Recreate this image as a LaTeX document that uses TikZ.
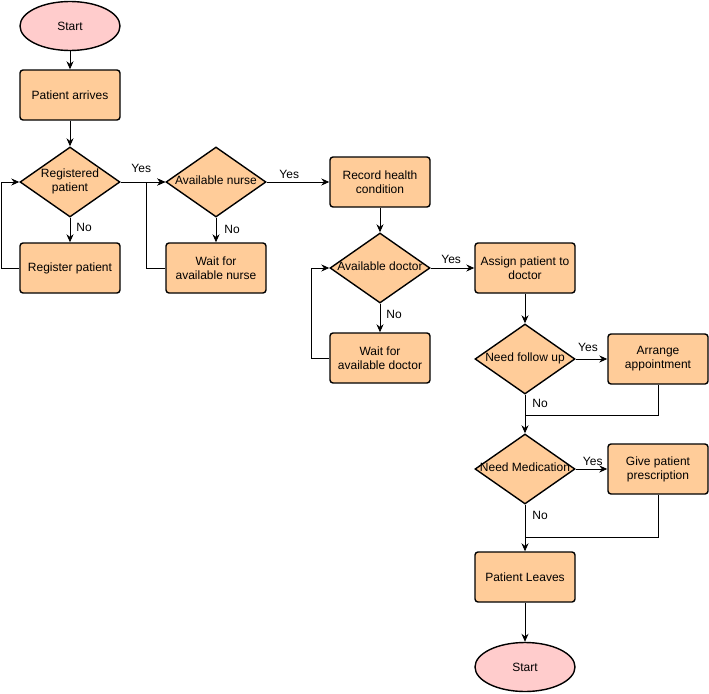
\documentclass[tikz,border=0pt]{standalone}
\usepackage{fontspec}
\setmainfont{Liberation Sans}
\usetikzlibrary{shapes.geometric,arrows.meta}
\definecolor{boxfill}{RGB}{255,204,153}
\definecolor{endfill}{RGB}{255,204,204}
\newcommand{\dtext}[1]{\makebox[0pt]{\begin{tabular}{@{}c@{}}#1\end{tabular}}}

\begin{document}
\begin{tikzpicture}[x=1pt,y=-1pt,
  font=\fontsize{12}{14}\selectfont,
  terminal/.style={ellipse,draw,line width=1.4pt,fill=endfill,minimum width=100pt,minimum height=49pt,inner sep=0pt},
  proc/.style={rectangle,rounded corners=3pt,draw,line width=1.4pt,fill=boxfill,minimum width=100pt,minimum height=50pt,align=center,inner sep=0pt},
  decision/.style={diamond,draw,line width=1.4pt,fill=boxfill,minimum width=100pt,minimum height=70pt,inner sep=0pt},
  flow/.style={-{Stealth[length=8pt,width=7pt]},line width=0.9pt},
  link/.style={line width=0.9pt},
  lbl/.style={inner sep=1pt}]
  \useasboundingbox (0,0) rectangle (709,693);

  % First column
  \node[terminal] (start) at (70,26) {Start};
  \node[proc] (arrive) at (70,95) {Patient arrives};
  \node[decision] (reg) at (70,182) {\dtext{Registered\\patient}};
  \node[proc] (regp) at (70,268) {Register patient};

  % Second column
  \node[decision] (nurse) at (216,182) {\dtext{Available nurse}};
  \node[proc] (waitn) at (216,268) {Wait for\\available nurse};

  % Third column
  \node[proc] (record) at (380,182) {Record health\\condition};
  \node[decision] (doc) at (380,268) {\dtext{Available doctor}};
  \node[proc] (waitd) at (380,358) {Wait for\\available doctor};

  % Fourth column
  \node[proc] (assign) at (525,268) {Assign patient to\\doctor};
  \node[decision] (follow) at (525,359) {\dtext{Need follow up}};
  \node[decision] (med) at (525,469) {\dtext{Need Medication}};
  \node[proc] (leave) at (525,577) {Patient Leaves};
  \node[terminal] (stop) at (525,667) {Start};

  % Side boxes
  \node[proc] (arrange) at (658,359) {Arrange\\appointment};
  \node[proc] (presc) at (658,469) {Give patient\\prescription};

  % Joins
  \coordinate (j1) at (525,415);
  \coordinate (j2) at (525,537);

  % Connectors
  \draw[flow] (start) -- (arrive);
  \draw[flow] (arrive) -- (reg);
  \draw[flow] (reg) -- node[lbl,pos=.41,right=5pt] {No} (regp);
  \draw[flow] (regp.west) -- ++(-18,0) |- (reg.west);
  \draw[flow] (reg) -- node[lbl,pos=.46,above=7.5pt] {Yes} (nurse);
  \draw[flow] (nurse) -- node[lbl,pos=.46,right=7pt] {No} (waitn);
  \draw[flow] (waitn.west) -- ++(-19,0) |- (nurse.west);
  \draw[flow] (nurse) -- node[lbl,pos=.36,above=1.5pt] {Yes} (record);
  \draw[flow] (record) -- (doc);
  \draw[flow] (doc) -- node[lbl,pos=.37,right=5pt] {No} (waitd);
  \draw[flow] (waitd.west) -- ++(-18,0) |- (doc.west);
  \draw[flow] (doc) -- node[lbl,pos=.47,above=2.5pt] {Yes} (assign);
  \draw[flow] (assign) -- (follow);
  \draw[flow] (follow) -- node[lbl,pos=.39,above=5.5pt] {Yes} (arrange);
  \draw[flow] (follow) -- node[lbl,pos=.22,right=6pt] {No} (med);
  \draw[link] (arrange.south) |- (j1);
  \draw[flow] (med) -- node[lbl,pos=.54,above=1.5pt] {Yes} (presc);
  \draw[flow] (med) -- node[lbl,pos=.22,right=6pt] {No} (leave);
  \draw[link] (presc.south) |- (j2);
  \draw[flow] (leave) -- (stop);
\end{tikzpicture}
\end{document}
